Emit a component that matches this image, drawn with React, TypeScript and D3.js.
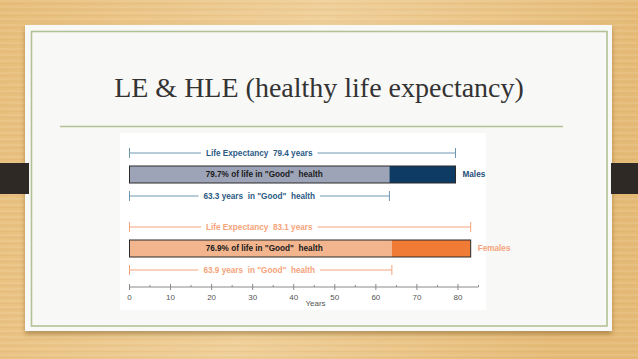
import React from "react";
import * as d3 from "d3";

const groups = ["Males", "Females"];
const lifeExpectancy = [79.4, 83.1];
const healthyYears = [63.3, 63.9];
const goodHealthPct = [79.7, 76.9];
const xTickValues = [0, 10, 20, 30, 40, 50, 60, 70, 80];
const minorTickValues = [5, 15, 25, 35, 45, 55, 65, 75, 85];
const title = "LE & HLE (healthy life expectancy)";
const axisTitle = "Years";

const lineColors = ["#6f97b1", "#f5a37a"];
const textColors = ["#2b5a85", "#f5a37a"];
const lightFill = ["#9ea4b8", "#f2b58e"];
const darkFill = ["#0e3b63", "#f07b34"];
const groupLabelColors = ["#1f4e79", "#f5a37a"];

const W = 638;
const H = 359;

const FONT_SIZE = 8.2;
const FONT_FAMILY = "'Liberation Sans', Arial, sans-serif";

const measureCache: Record<string, number> = {};
function measure(text: string, font: string): number {
  const key = font + "|" + text;
  if (measureCache[key] !== undefined) return measureCache[key];
  let w = text.length * 4.9;
  try {
    const c = document.createElement("canvas");
    const ctx = c.getContext("2d");
    if (ctx) {
      ctx.font = font;
      w = ctx.measureText(text).width;
    }
  } catch (e) {}
  measureCache[key] = w;
  return w;
}

function RangeLine({ x0, x1, y, cx, label, color, textColor }: any) {
  const font = `bold ${FONT_SIZE}px 'Liberation Sans'`;
  const tw = measure(label, font);
  const gap = 5;
  return (
    <g>
      <line x1={x0} x2={cx - tw / 2 - gap} y1={y} y2={y} stroke={color} strokeWidth={1} />
      <line x1={cx + tw / 2 + gap} x2={x1} y1={y} y2={y} stroke={color} strokeWidth={1} />
      <line x1={x0} x2={x0} y1={y - 5} y2={y + 5} stroke={color} strokeWidth={1} />
      <line x1={x1} x2={x1} y1={y - 5} y2={y + 5} stroke={color} strokeWidth={1} />
      <text x={cx} y={y} dy="0.35em" textAnchor="middle" fontFamily={FONT_FAMILY} fontWeight="bold" fontSize={FONT_SIZE} fill={textColor} style={{ whiteSpace: "pre" }}>
        {label}
      </text>
    </g>
  );
}

export default function App() {
  const x = d3.scaleLinear().domain([0, 85]).range([129.5, 478.5]);
  const labelCenter = x(31.6);
  const barTextCenter = x(32.8);
  const groupTop = [153, 227];
  const axisY = 287;

  return (
    <svg width={W} height={H} style={{ position: "absolute", left: 0, top: 0 }}>
      <defs>
        <linearGradient id="wood" x1="0" y1="0" x2="1" y2="0.15">
          <stop offset="0" stopColor="#e7bd7a" />
          <stop offset="0.5" stopColor="#efcf98" />
          <stop offset="1" stopColor="#e5ba76" />
        </linearGradient>
        <pattern id="grain" width="638" height="6" patternUnits="userSpaceOnUse">
          <rect width="638" height="2" fill="#ffffff" opacity="0.08" />
          <rect y="3" width="638" height="1" fill="#b8874a" opacity="0.07" />
        </pattern>
        <filter id="shadow" x="-5%" y="-5%" width="110%" height="115%">
          <feDropShadow dx="0" dy="3" stdDeviation="2.5" floodColor="#6b4a1e" floodOpacity="0.45" />
        </filter>
      </defs>
      <rect width={W} height={H} fill="url(#wood)" />
      <rect width={W} height={H} fill="url(#grain)" />
      <rect x={25} y={25} width={587} height={306} fill="#f8f8f6" filter="url(#shadow)" />
      <rect x={31.5} y={31.5} width={575.5} height={294.5} fill="none" stroke="#b3c196" strokeWidth={1.6} />
      <rect x={0} y={163} width={29} height={31} fill="#2f2926" />
      <rect x={611} y={163} width={27} height={31} fill="#2f2926" />
      <text x={319} y={97} textAnchor="middle" fontFamily="'Liberation Serif', 'DejaVu Serif', serif" fontSize={28} fill="#333333">
        {title}
      </text>
      <line x1={60} x2={563} y1={126.5} y2={126.5} stroke="#b3c196" strokeWidth={1.6} />
      <rect x={120} y={133} width={366} height={177} fill="#ffffff" />
      {groups.map((g, i) => {
        const y0 = groupTop[i];
        const barY = y0 + 13;
        const barH = 17;
        return (
          <g key={g}>
            <RangeLine
              x0={x(0)}
              x1={x(lifeExpectancy[i])}
              y={y0}
              cx={labelCenter}
              label={`Life Expectancy  ${lifeExpectancy[i]} years`}
              color={lineColors[i]}
              textColor={textColors[i]}
            />
            <rect x={x(0)} y={barY} width={x(healthyYears[i]) - x(0)} height={barH} fill={lightFill[i]} />
            <rect x={x(healthyYears[i])} y={barY} width={x(lifeExpectancy[i]) - x(healthyYears[i])} height={barH} fill={darkFill[i]} />
            <rect x={x(0)} y={barY} width={x(lifeExpectancy[i]) - x(0)} height={barH} fill="none" stroke="#2a2a2a" strokeWidth={1} />
            <text x={barTextCenter} y={barY + barH / 2} dy="0.35em" textAnchor="middle" fontFamily={FONT_FAMILY} fontWeight="bold" fontSize={FONT_SIZE} fill="#1a1a1a" style={{ whiteSpace: "pre" }}>
              {`${goodHealthPct[i]}% of life in "Good"  health`}
            </text>
            <text x={x(lifeExpectancy[i]) + 7} y={barY + barH / 2} dy="0.35em" fontFamily={FONT_FAMILY} fontWeight="bold" fontSize={FONT_SIZE} fill={groupLabelColors[i]}>
              {g}
            </text>
            <RangeLine
              x0={x(0)}
              x1={x(healthyYears[i])}
              y={y0 + 43}
              cx={labelCenter}
              label={`${healthyYears[i]} years  in "Good"  health`}
              color={lineColors[i]}
              textColor={textColors[i]}
            />
          </g>
        );
      })}
      <g>
        <line x1={x(0)} x2={x(85)} y1={axisY} y2={axisY} stroke="#8a8a8a" strokeWidth={1} />
        {xTickValues.map((t) => (
          <g key={t}>
            <line x1={x(t)} x2={x(t)} y1={axisY - 3} y2={axisY + 3} stroke="#8a8a8a" strokeWidth={1} />
            <text x={x(t)} y={axisY + 10} dy="0.35em" textAnchor="middle" fontFamily={FONT_FAMILY} fontSize={8} fill="#555">
              {t}
            </text>
          </g>
        ))}
        {minorTickValues.map((t) => (
          <line key={t} x1={x(t)} x2={x(t)} y1={axisY - 2} y2={axisY} stroke="#8a8a8a" strokeWidth={1} />
        ))}
        <text x={x(45.3)} y={axisY + 16.5} dy="0.35em" textAnchor="middle" fontFamily={FONT_FAMILY} fontSize={8} fill="#555">
          {axisTitle}
        </text>
      </g>
    </svg>
  );
}
